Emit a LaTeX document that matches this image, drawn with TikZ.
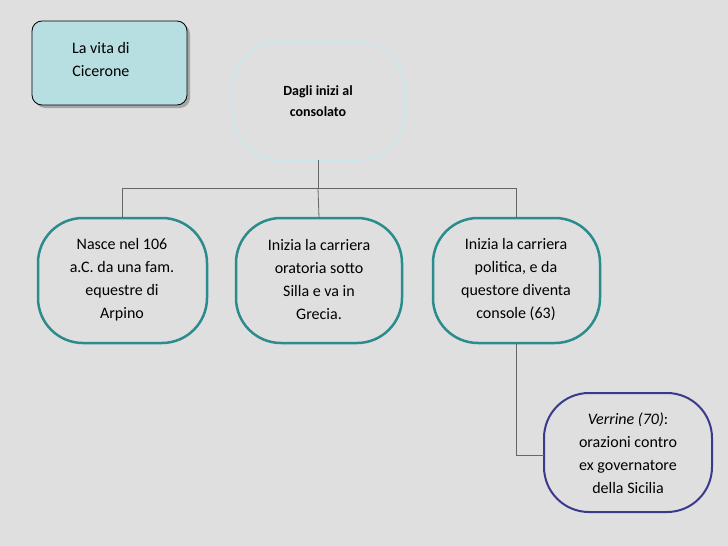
\documentclass[tikz,border=0pt]{standalone}
\usepackage{fontspec}
\setmainfont{Carlito}
\begin{document}
\begin{tikzpicture}[x=1pt,y=-1pt,
  bx/.style={align=center,font=\fontsize{16}{23}\selectfont,inner sep=0pt},
  conn/.style={draw=gray!80!black,line width=0.8pt}]
\fill[gray!25!white] (0,0) rectangle (728,546);
\useasboundingbox (0,0) rectangle (728,546);
% title
\fill[black!35,rounded corners=10] (35,24) rectangle (190,108);
\draw[fill={rgb,255:red,183;green,222;blue,224},line width=0.8pt,rounded corners=10] (32,21) rectangle (187,105);
\node[bx,anchor=north west] (t) at (72,42) {La vita di\\Cicerone};
\node[bx,align=left] at (0,0) {};
% top
\draw[draw={rgb,255:red,200;green,232;blue,236},line width=1.5pt,rounded corners=45,fill=gray!25!white] (233,42) rectangle (404,160);
\node[bx,font=\bfseries\fontsize{14}{21}\selectfont] (top) at (318,101) {Dagli inizi al\\consolato};
\coordinate (tb) at (318,160);
% bottom row
\foreach \n/\a/\b/\c/\txt in {n1/38/207/122/{Nasce nel 106\\a.C. da una fam.\\equestre di\\Arpino},
 n2/236/402/319/{Inizia la carriera\\oratoria sotto\\Silla e va in\\Grecia.},
 n3/433/600/516/{Inizia la carriera\\politica, e da\\questore diventa\\console (63)}}{
 \draw[draw={rgb,255:red,42;green,140;blue,140},line width=2.5pt,rounded corners=45] (\a,218) rectangle (\b,343);
 \node[bx] (\n) at (\c,280) {\txt};
 \coordinate (\n t) at (\c,218);
}
\draw[draw={rgb,255:red,58;green,58;blue,140},line width=2pt,rounded corners=45] (544,393) rectangle (712,512);
\node[bx] (n4) at (628,453) {\textit{Verrine (70)}:\\orazioni contro\\ex governatore\\della Sicilia};
\coordinate (n3b) at (516,343);
\coordinate (n4l) at (544,455);
\draw[conn] (tb) -- (318,188) -| (n1t);
\draw[conn] (318,188) -| (n3t);
\draw[conn] (318,188) -- (n2t);
\draw[conn] (n3b) |- (n4l);
\end{tikzpicture}
\end{document}
